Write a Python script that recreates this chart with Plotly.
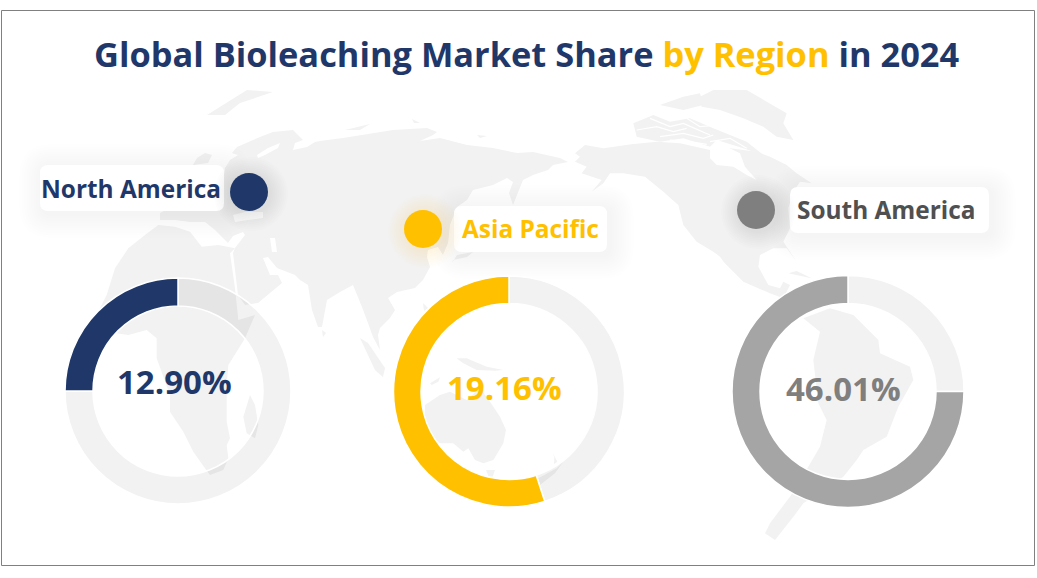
import plotly.graph_objects as go

W, H = 1037, 578

REGIONS = ["North America", "Asia Pacific", "South America"]
SHARE_LABELS = ["12.90%", "19.16%", "46.01%"]
FILLED_PCT = [25.0, 55.0, 75.0]
RING_COLORS = ["#1F3869", "#FFC000", "#A5A5A5"]
TEXT_COLORS = ["#1F3869", "#FFC000", "#7F7F7F"]
LABEL_COLORS = ["#1F3869", "#FFC000", "#505050"]
DOT_COLORS = ["#1F3869", "#FFC000", "#7F7F7F"]
GLOW_RGB = ["60,60,60", "255,192,0", "60,60,60"]

FONT = "Open Sans"
MAP = "#F2F2F2"


def z(x0, y0, pts):
    return [(x0 + x / 3, y0 + y / 3) for x, y in pts]


EURASIA = [(245,235),(235,248),(233,253),(238,295),(245,305),(258,303),(282,283),(278,275),(270,275),(263,258),(268,257),(277,268),(295,275),(300,280),(308,285),(312,310),(318,327),(322,327),(327,300),(340,292),(353,285),(362,307),(368,323),(373,337),(380,350),(378,335),(380,328),(390,318),(395,310),(388,298),(397,292),(415,288),(423,280),(430,267),(427,257),(428,250),(438,247),(443,255),(448,243),(450,225),(457,207),(467,200),(473,190),(493,185),(507,178),(513,182),(509,193),(513,205),(523,180),(533,175),(548,170),(553,165),(568,162),(560,158),(533,152),(517,153),(493,148),(467,145),(440,138),(420,141),(433,135),(437,132),(427,128),(393,130),(343,138),(320,141),(315,142),(307,147),(293,150),(295,143),(303,140),(293,130),(273,132),(260,137),(237,147),(232,153),(238,155),(230,160),(225,168),(222,190),(175,205),(160,213),(160,220),(175,220),(190,222),(205,222),(215,230),(228,243),(233,236),(243,232)]
AFRICA = z(95, 225, [(190,0),(150,30),(100,70),(60,130),(35,210),(0,280),(30,330),(65,325),(100,330),(155,315),(185,340),(185,400),(225,510),(225,560),(265,620),(295,680),(330,730),(345,750),(385,735),(400,700),(395,660),(405,640),(395,590),(395,480),(400,420),(450,340),(480,270),(430,285),(420,190),(405,85),(420,70),(370,60),(320,65),(285,20),(240,5)])
MADAGASCAR = z(95, 225, [(465,510),(445,575),(455,625),(480,640),(490,600),(480,540)])
NORTH_AMERICA = z(570, 85, [(15,205),(45,180),(100,190),(185,178),(260,170),(330,175),(420,195),(480,190),(560,200),(600,215),(650,240),(680,265),(725,295),(690,290),(670,320),(655,370),(660,430),(640,470),(680,530),(650,490),(610,490),(570,510),(565,545),(595,600),(630,610),(640,590),(660,600),(640,640),(600,625),(520,590),(430,500),(380,470),(340,420),(325,360),(280,320),(225,275),(160,265),(120,265),(100,295),(65,320),(95,285),(35,265),(50,245),(15,230),(30,215)])
HUDSON = z(570, 85, [(420,195),(470,185),(510,205),(525,245),(560,285),(530,270),(490,245),(440,240),(420,220)])
BAJA_GAP = z(570, 85, [(430,500),(450,515),(495,580),(470,555)])
ARCTIC = z(570, 85, [(190,115),(250,90),(300,110),(360,100),(430,130),(530,170),(580,210),(520,190),(440,165),(420,185),(340,160),(270,170),(200,155)])
ELLESMERE = z(570, 85, [(270,60),(340,35),(390,25),(400,60),(340,75)])
GREENLAND = z(570, 85, [(390,35),(430,15),(530,15),(650,85),(640,115),(670,165),(620,155),(580,125),(520,100),(450,75),(395,65)])
CUBA = z(570, 85, [(655,565),(680,558),(725,580),(690,572)])
SOUTH_AMERICA = z(750, 290, [(240,55),(160,85),(210,125),(190,210),(205,340),(230,390),(210,470),(175,530),(120,620),(60,700),(45,730),(75,750),(130,680),(160,640),(280,560),(320,510),(340,480),(410,440),(445,350),(490,270),(480,230),(390,190),(385,150),(310,75)])
AUSTRALIA = z(400, 320, [(75,255),(120,225),(150,215),(200,240),(240,205),(270,245),(300,290),(318,330),(310,370),(280,420),(250,430),(225,420),(205,385),(190,395),(160,370),(120,370),(85,340),(75,300)])
TASMANIA = z(400, 320, [(258,450),(285,450),(278,470),(265,468)])
NEW_GUINEA = z(400, 320, [(170,115),(200,115),(260,140),(310,150),(285,152),(230,150),(190,130)])
BORNEO = z(400, 320, [(90,190),(120,172),(115,185),(95,195)])
NZ_NORTH = z(400, 320, [(458,398),(472,425),(462,432),(463,412)])
NZ_SOUTH = z(400, 320, [(490,425),(470,445),(415,475),(420,495),(465,460)])
SUMATRA = [(360,338),(368,343),(385,368),(383,377),(375,370)]
UK = [(205,153),(212,155),(208,163),(193,165),(197,158)]
NOVAYA = [(207,115),(247,90),(273,92),(240,103),(225,115)]
NSI = [(345,130),(370,124),(360,130)]
WRANGEL = [(412,119),(420,123),(414,123)]
NEWSIB = [(477,135),(487,136),(480,138)]
JAPAN = [(452,263),(457,255),(473,252),(467,257),(453,260)]
TAIWAN = [(423,303),(428,308),(424,311)]
SRI_LANKA = [(322,330),(326,333),(323,337)]
BALTIC = [(257,155),(268,148),(280,143),(278,148),(265,155),(258,158)]
BLACK_SEA = [(233,215),(245,212),(263,212),(263,218),(248,220),(235,222)]
CASPIAN = [(270,238),(275,238),(277,252),(272,252)]

LAND = [EURASIA, AFRICA, MADAGASCAR, NORTH_AMERICA, ARCTIC, ELLESMERE, GREENLAND, CUBA, SOUTH_AMERICA,
        AUSTRALIA, TASMANIA, NEW_GUINEA, BORNEO, NZ_NORTH, NZ_SOUTH, SUMATRA, UK, NOVAYA, NSI, WRANGEL,
        NEWSIB, JAPAN, TAIWAN, SRI_LANKA]
WATER = [HUDSON, BAJA_GAP, BALTIC, BLACK_SEA, CASPIAN]
CHANNELS = [z(570, 85, c) for c in [
    [(200,135),(260,125),(310,140),(350,130)],
    [(240,100),(300,125),(340,115),(420,150)],
    [(270,155),(340,145),(400,160),(430,150)],
    [(350,100),(390,125),(450,120),(520,155)],
    [(420,170),(480,160),(530,190)],
    [(290,70),(350,85),(400,70)],
    [(300,165),(360,170),(410,178)],
]]


def fx(x):
    return x / W


def fy(y):
    return 1 - y / H


def poly_path(pts, close=True):
    return "M" + "L".join(f"{fx(x):.5f},{fy(y):.5f}" for x, y in pts) + ("Z" if close else "")


def rrect_path(x0, y0, x1, y1, r):
    return (f"M{fx(x0+r):.5f},{fy(y0):.5f}L{fx(x1-r):.5f},{fy(y0):.5f}"
            f"Q{fx(x1):.5f},{fy(y0):.5f} {fx(x1):.5f},{fy(y0+r):.5f}"
            f"L{fx(x1):.5f},{fy(y1-r):.5f}Q{fx(x1):.5f},{fy(y1):.5f} {fx(x1-r):.5f},{fy(y1):.5f}"
            f"L{fx(x0+r):.5f},{fy(y1):.5f}Q{fx(x0):.5f},{fy(y1):.5f} {fx(x0):.5f},{fy(y1-r):.5f}"
            f"L{fx(x0):.5f},{fy(y0+r):.5f}Q{fx(x0):.5f},{fy(y0):.5f} {fx(x0+r):.5f},{fy(y0):.5f}Z")


shapes = []
for p in LAND:
    shapes.append(dict(type="path", path=poly_path(p), xref="paper", yref="paper",
                       fillcolor=MAP, line=dict(width=0), layer="below"))
for p in WATER:
    shapes.append(dict(type="path", path=poly_path(p), xref="paper", yref="paper",
                       fillcolor="white", line=dict(width=0), layer="below"))
for p in CHANNELS:
    shapes.append(dict(type="path", path=poly_path(p, close=False), xref="paper", yref="paper",
                       line=dict(color="white", width=1.2), layer="below"))


def circle(cx, cy, r, color):
    return dict(type="circle", xref="paper", yref="paper", x0=fx(cx - r), x1=fx(cx + r),
                y0=fy(cy + r), y1=fy(cy - r), fillcolor=color, line=dict(width=0), layer="below")


BOXES = [(40, 165, 224, 211), (454, 206, 607, 252), (790, 187, 989, 233)]
DOTS = [(249, 192, 19), (423, 229, 19), (756, 210, 19)]
LABEL_X = [131, 530, 886]
LABEL_Y = [188, 228, 209]

for (x0, y0, x1, y1) in BOXES:
    for k in range(10, 0, -1):
        e = k * 2.4
        shapes.append(dict(type="path", path=rrect_path(x0 - e + 3, y0 - e + 3, x1 + e + 3, y1 + e + 3, 8 + e),
                           xref="paper", yref="paper", fillcolor="rgba(0,0,0,0.0035)",
                           line=dict(width=0), layer="below"))
    shapes.append(dict(type="path", path=rrect_path(x0, y0, x1, y1, 8), xref="paper", yref="paper",
                       fillcolor="white", line=dict(width=0), layer="below"))
for (cx, cy, r), rgb in zip(DOTS, GLOW_RGB):
    for k in range(10, 0, -1):
        shapes.append(circle(cx + 2, cy + 2, r + k * 1.8, f"rgba({rgb},0.012)"))
for (cx, cy, r), c in zip(DOTS, DOT_COLORS):
    shapes.append(circle(cx, cy, r, c))

FRAME = dict(color="#808080", width=1)
for x0, y0, x1, y1 in [(1.5, 10.5, 1034.5, 10.5), (1.5, 565.5, 1034.5, 565.5), (1.5, 10.5, 1.5, 565.5), (1034.5, 10.5, 1034.5, 565.5)]:
    shapes.append(dict(type="line", xref="paper", yref="paper", x0=fx(x0), x1=fx(x1), y0=fy(y0), y1=fy(y1),
                       line=FRAME, layer="below"))

fig = go.Figure()
RINGS = [(178, 391, 113, 85), (509, 391.5, 115.5, 88), (848, 391.5, 116, 88)]
for (cx, cy, R, r), f, c in zip(RINGS, FILLED_PCT, RING_COLORS):
    fig.add_trace(go.Pie(
        values=[100 - f, f], sort=False, direction="clockwise", rotation=0,
        hole=r / R, textinfo="none", hoverinfo="skip", showlegend=False,
        marker=dict(colors=["rgba(0,0,0,0.05)", c], line=dict(color="white", width=1.5)),
        domain=dict(x=[fx(cx - R), fx(cx + R)], y=[fy(cy + R), fy(cy - R)]),
    ))

annotations = [dict(
    text=('Global Bioleaching Market Share <span style="color:#FFC000">by Region</span> in 2024'),
    x=fx(526), y=fy(54), xref="paper", yref="paper", xanchor="center", yanchor="middle", showarrow=False,
    font=dict(family=FONT, size=34.4, color="#1F3869", weight="bold"))]
for name, lx, ly, col in zip(REGIONS, LABEL_X, LABEL_Y, LABEL_COLORS):
    annotations.append(dict(text=name, x=fx(lx), y=fy(ly), xref="paper", yref="paper",
                            xanchor="center", yanchor="middle", showarrow=False,
                            font=dict(family=FONT, size=24.4, color=col, weight="bold")))
for lab, (cx, cy, R, r), col, ty in zip(SHARE_LABELS, RINGS, TEXT_COLORS, [381, 387, 388]):
    annotations.append(dict(text=lab, x=fx(cx - 4 if cx < 200 else cx - 5), y=fy(ty), xref="paper", yref="paper",
                            xanchor="center", yanchor="middle", showarrow=False,
                            font=dict(family=FONT, size=33, color=col, weight="bold")))

fig.update_layout(width=W, height=H, margin=dict(l=0, r=0, t=0, b=0), paper_bgcolor="white",
                  plot_bgcolor="white", shapes=shapes, annotations=annotations, showlegend=False)
fig.write_html("out.html", post_script="document.body.style.margin='0';document.body.style.overflow='hidden';",
               config={"displayModeBar": False})
